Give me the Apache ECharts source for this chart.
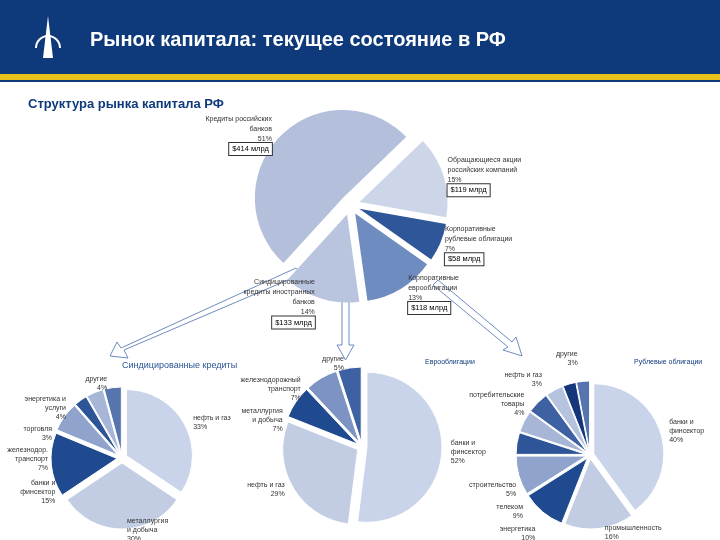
<!DOCTYPE html>
<html>
<head>
<meta charset="utf-8">
<script src="https://cdn.jsdelivr.net/npm/echarts@6/dist/echarts.min.js"></script>
<style>
html, body { margin: 0; padding: 0; background: #fff; }
#main { width: 720px; height: 540px; }
</style>
</head>
<body>
<div id="main"></div>
<script>
// главный круг
var mainNames = ['Обращающиеся акции\nроссийских компаний', 'Корпоративные\nрублевые облигации', 'Корпоративные\nеврооблигации', 'Синдицированные\nкредиты иностранных\nбанков', 'Кредиты российских\nбанков'];
var mainPct = [15, 7, 13, 14, 51];
var mainUsd = ['$119 млрд', '$58 млрд', '$118 млрд', '$133 млрд', '$414 млрд'];
var mainColors = ['#cdd6e9', '#2f5698', '#6f8cc0', '#b9c5df', '#b3bfdb'];

// синдицированные кредиты
var syndNames = ['нефть и газ', 'металлургия\nи добыча', 'банки и\nфинсектор', 'железнодор.\nтранспорт', 'торговля', 'энергетика и\nуслуги', 'другие'];
var syndPct = [33, 30, 15, 7, 3, 4, 4];
var syndColors = ['#c9d3e9', '#c2cce3', '#1f4a8f', '#8fa3cc', '#2e5597', '#a7b6d7', '#5675ae'];

// еврооблигации
var euroNames = ['банки и\nфинсектор', 'нефть и газ', 'металлургия\nи добыча', 'железнодорожный\nтранспорт', 'другие'];
var euroPct = [52, 29, 7, 7, 5];
var euroColors = ['#c9d3e9', '#c2cce3', '#1f4a8f', '#7d93c3', '#3d61a2'];

// рублевые облигации
var rubNames = ['банки и\nфинсектор', 'промышленность', 'энергетика', 'телеком', 'строительство', 'железнодорожный\nтранспорт', 'металлургия и\nдобыча', 'потребительские\nтовары', 'нефть и газ', 'другие'];
var rubPct = [40, 16, 10, 9, 5, 5, 5, 4, 3, 3];
var rubColors = ['#c9d3e9', '#c2cce3', '#1f4a8f', '#8fa3cc', '#2e5597', '#a7b6d7', '#3d61a2', '#b6c3de', '#15367a', '#5675ae'];

function items(names, vals, colors, labelFn) {
    var r = [];
    for (var i = 0; i < names.length; i++) {
        var it = { name: names[i], value: vals[i], selected: true, itemStyle: { color: colors[i] } };
        if (labelFn) it.label = { formatter: labelFn(i) };
        r.push(it);
    }
    return r;
}

function smallPie(center, radius, data, offset) {
    return {
        type: 'pie',
        center: center,
        radius: radius,
        startAngle: 90,
        selectedMode: 'multiple',
        selectedOffset: offset,
        animation: false,
        silent: true,
        itemStyle: { borderColor: '#fff', borderWidth: 1 },
        label: {
            show: true, position: 'outside', formatter: '{b}\n{c}%',
            fontSize: 7, lineHeight: 9, color: '#333', fontFamily: 'Arial',
            overflow: 'none'
        },
        edgeDistance: 0,
        labelLine: { show: false, length: 4, length2: 0 },
        data: data
    };
}

var myChart = echarts.init(document.getElementById('main'));

var arrowStyle = { fill: '#fff', stroke: '#6f8cc0', lineWidth: 1 };

var option = {
    backgroundColor: '#fff',
    graphic: [
        { type: 'rect', shape: { x: 0, y: 0, width: 720, height: 74 }, style: { fill: '#0e3a7c' } },
        { type: 'rect', shape: { x: 0, y: 74, width: 720, height: 6 }, style: { fill: '#e6c21a' } },
        { type: 'rect', shape: { x: 0, y: 80, width: 720, height: 2 }, style: { fill: '#0e3a7c' } },
        { type: 'polygon', shape: { points: [[48, 16], [43, 58], [53, 58]] }, style: { fill: '#fff' } },
        { type: 'arc', shape: { cx: 48, cy: 48, r: 12, startAngle: Math.PI, endAngle: 2 * Math.PI }, style: { stroke: '#fff', lineWidth: 2, fill: 'none' } },
        { type: 'text', left: 90, top: 30, style: { text: 'Рынок капитала: текущее состояние в РФ', fill: '#fff', font: 'bold 20px Arial' } },
        { type: 'text', left: 28, top: 98, style: { text: 'Структура рынка капитала РФ', fill: '#0e3a7c', font: 'bold 13px Arial' } },
        { type: 'text', left: 122, top: 361, style: { text: 'Синдицированные кредиты', fill: '#2a5596', font: '9px Arial' } },
        { type: 'text', left: 425, top: 359, style: { text: 'Еврооблигации', fill: '#0e3a7c', font: '7px Arial' } },
        { type: 'text', left: 634, top: 359, style: { text: 'Рублевые облигации', fill: '#0e3a7c', font: '7px Arial' } },
        { type: 'polygon', shape: { points: [[296, 268], [302, 274], [124, 350], [128, 358], [110, 356], [117, 342], [121, 348]] }, style: arrowStyle },
        { type: 'polygon', shape: { points: [[342, 292], [349, 292], [349, 345], [354, 345], [345.5, 360], [337, 345], [342, 345]] }, style: arrowStyle },
        { type: 'polygon', shape: { points: [[433, 285], [438, 280], [512, 342], [516, 337], [522, 356], [503, 350], [508, 347]] }, style: arrowStyle }
    ],
    series: [
        {
            type: 'pie',
            center: [350, 205],
            radius: [0, 88],
            startAngle: 44,
            selectedMode: 'multiple',
            selectedOffset: 10,
            animation: false,
            silent: true,
            label: {
                show: true, position: 'outside',
                fontSize: 7, lineHeight: 10, color: '#333', fontFamily: 'Arial',
                rich: { box: { borderColor: '#333', borderWidth: 1, padding: [2, 3], fontSize: 7.5, color: '#000', backgroundColor: '#fff' } }
            },
            labelLine: { show: false, length: 4, length2: 0 },
            data: items(mainNames, mainPct, mainColors, function (i) {
                return mainNames[i] + '\n' + mainPct[i] + '%\n{box|' + mainUsd[i] + '}';
            })
        },
        smallPie([122, 458], [0, 66], items(syndNames, syndPct, syndColors), 5),
        smallPie([362, 447], [0, 75], items(euroNames, euroPct, euroColors), 5),
        smallPie([590, 455], [0, 70], items(rubNames, rubPct, rubColors), 4)
    ]
};

myChart.setOption(option);
</script>
</body>
</html>
